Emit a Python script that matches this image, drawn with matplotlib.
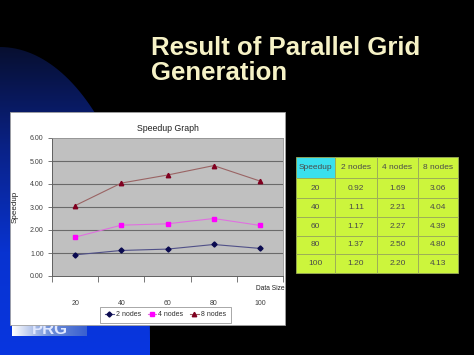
import numpy as np
import matplotlib
matplotlib.use("Agg")
from matplotlib import pyplot as plt
from matplotlib import font_manager
from matplotlib.patches import Rectangle, PathPatch
from matplotlib.path import Path
from matplotlib.colors import LinearSegmentedColormap

# Data
sizes = [20, 40, 60, 80, 100]
series_labels = ["2 nodes", "4 nodes", "8 nodes"]
nodes2 = [0.92, 1.11, 1.17, 1.37, 1.20]
nodes4 = [1.69, 2.21, 2.27, 2.50, 2.20]
nodes8 = [3.06, 4.04, 4.39, 4.80, 4.13]
yticks = [0, 1, 2, 3, 4, 5, 6]

# pick a narrow face for the title if one is there
names = {f.name for f in font_manager.fontManager.ttflist}
if "Liberation Sans Narrow" in names:
    title_font, title_size = ["Liberation Sans Narrow", "DejaVu Sans"], 22.5
else:
    title_font, title_size = ["Liberation Sans", "DejaVu Sans"], 18.5
cfont = ["Liberation Sans", "DejaVu Sans"]

W, H = 474, 355
fig = plt.figure(figsize=(W / 100, H / 100), dpi=100, facecolor="black")

# background layer in pixel coordinates
bg = fig.add_axes([0, 0, 1, 1])
bg.axis("off")
bg.add_patch(Rectangle((0, 0), W, H, color="black", zorder=0))

# blue rounded column on the left
t = np.linspace(np.pi / 2, 0, 60)
cx, cy, a, b = 0, 339, 150, 292
pts = [(cx + a * np.cos(v), cy - b * np.sin(v)) for v in t]
pts += [(150, H), (0, H), pts[0]]
clip = PathPatch(Path(pts), facecolor="none", edgecolor="none")
bg.add_patch(clip)
grad = np.linspace(0, 1, 256).reshape(-1, 1)
cmap = LinearSegmentedColormap.from_list("bl", ["#070f30", "#0a2288", "#0833d0", "#0836e0"])
im = bg.imshow(grad, cmap=cmap, extent=[0, 150, H, 47], aspect="auto", zorder=1)
im.set_clip_path(clip)

# PRG logo (mostly hidden behind chart box)
lg = np.linspace(0, 1, 64).reshape(1, -1)
lcmap = LinearSegmentedColormap.from_list("lg", ["#ffffff", "#7090d8", "#3a60d0"])
bg.imshow(lg, cmap=lcmap, extent=[12, 87, 336, 318], aspect="auto", zorder=2)
bg.text(50, 334, "PRG", color="#e0e8ff", fontsize=12, fontweight="bold",
        family=cfont, ha="center", va="baseline", zorder=3)
bg.set_xlim(0, W)
bg.set_ylim(H, 0)

# chart white box
bg.add_patch(Rectangle((10, 112), 275, 213, facecolor="white", edgecolor="#a0a0a0",
                       lw=0.6, zorder=4))

# title
for txt, base in [("Result of Parallel Grid", 55), ("Generation", 80)]:
    bg.text(151, base, txt, color="#f6f2c6", fontsize=title_size, fontweight="bold",
            family=title_font, ha="left", va="baseline", zorder=5)

# table
col_x = [296, 335, 377, 418, 458]
row_y = [157, 178, 198, 217, 236, 254, 273]
header = ["Speedup"] + series_labels
rows = [[str(s), f"{a:.2f}", f"{b2:.2f}", f"{c:.2f}"]
        for s, a, b2, c in zip(sizes, nodes2, nodes4, nodes8)]
cells = [header] + rows
for r, row in enumerate(cells):
    for c, val in enumerate(row):
        x0, x1 = col_x[c], col_x[c + 1]
        y0, y1 = row_y[r], row_y[r + 1]
        fc = "#3ae0ee" if (r == 0 and c == 0) else "#ccf53c"
        bg.add_patch(Rectangle((x0, y0), x1 - x0, y1 - y0, facecolor=fc,
                               edgecolor="#9aab5a", lw=0.6, zorder=4))
        bg.text((x0 + x1) / 2, (y0 + y1) / 2, val, color="#4a4a4a", fontsize=6,
                family=cfont, ha="center", va="center", zorder=5)

# chart
ax = fig.add_axes([52 / W, 1 - 276 / H, 231 / W, 138 / H])
ax.set_facecolor("#c0c0c0")
x = np.arange(len(sizes))
ax.plot(x, nodes2, color="#505088", lw=0.8, marker="D", ms=2.6,
        mfc="#0a0a50", mec="#0a0a50", label=series_labels[0])
ax.plot(x, nodes4, color="#e070e0", lw=0.8, marker="s", ms=3,
        mfc="#ff00ff", mec="#ff00ff", label=series_labels[1])
ax.plot(x, nodes8, color="#9a6464", lw=0.8, marker="^", ms=3.2,
        mfc="#800020", mec="#800020", label=series_labels[2])
ax.set_xlim(-0.5, len(sizes) - 0.5)
ax.set_ylim(0, 6)
ax.set_yticks(yticks)
ax.set_yticklabels([f"{v:.2f}" for v in yticks], fontsize=5, color="#404040", family=cfont)
for v in yticks[1:-1]:
    ax.axhline(v, color="#6a6a6a", lw=0.8, zorder=1)
ax.tick_params(axis="y", length=3, width=0.6, color="#606060", pad=3)
ax.set_xticks(np.arange(-0.5, len(sizes)))
ax.set_xticklabels([])
ax.tick_params(axis="x", length=4, width=0.6, color="#606060")
ax.set_xticks(x, minor=True)
ax.set_xticklabels([str(s) for s in sizes], minor=True, fontsize=5, color="#404040",
                   family=cfont)
ax.tick_params(axis="x", which="minor", length=0, pad=17)
for s in ["left", "bottom"]:
    ax.spines[s].set_color("#606060")
    ax.spines[s].set_linewidth(0.7)
for s in ["top", "right"]:
    ax.spines[s].set_color("#909090")
    ax.spines[s].set_linewidth(0.6)
ax.set_title("Speedup Graph", fontsize=6.3, color="#202020", family=cfont, pad=5)
ax.set_ylabel("Speedup", fontsize=5.8, color="#202020", family=cfont, labelpad=8)
ax.text(1.005, -0.088, "Data Size", transform=ax.transAxes, ha="right", va="center",
        fontsize=4.8, color="#202020", family=cfont)

leg = fig.legend(loc="center", bbox_to_anchor=(165.5 / W, 1 - 315 / H), ncol=3,
                 prop={"family": cfont, "size": 5},
                 frameon=True, fancybox=False, edgecolor="#808080",
                 handlelength=1.2, columnspacing=1.0, borderpad=0.7, handletextpad=0.3)
leg.get_frame().set_linewidth(0.6)
for t_ in leg.get_texts():
    t_.set_color("#303030")

fig.savefig("out.png", dpi=100, facecolor="black")
